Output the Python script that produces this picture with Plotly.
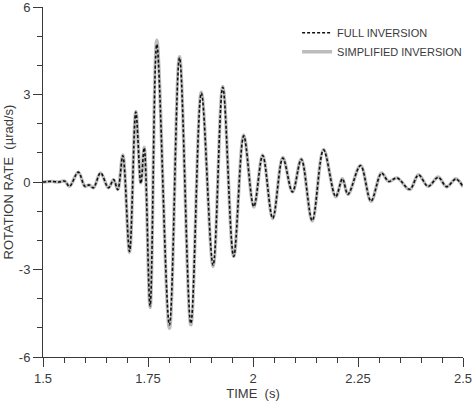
import plotly.graph_objects as go

# Extrema and key points (time in s, rate in µrad/s)
time_s = [1.500, 1.520, 1.538, 1.552, 1.563, 1.584, 1.600, 1.610, 1.620, 1.637,
          1.656, 1.668, 1.678, 1.690, 1.706, 1.721, 1.733, 1.741, 1.755, 1.771,
          1.801, 1.825, 1.852, 1.877, 1.905, 1.928, 1.954, 1.978, 2.002, 2.023,
          2.047, 2.071, 2.094, 2.115, 2.141, 2.168, 2.197, 2.213, 2.226, 2.256,
          2.281, 2.306, 2.323, 2.343, 2.373, 2.394, 2.417, 2.441, 2.461, 2.483,
          2.500]

simplified = [0.00, 0.02, 0.00, 0.03, -0.15, 0.34, -0.15, -0.10, -0.20, 0.31,
              -0.20, 0.08, -0.26, 0.93, -2.41, 2.42, -0.03, 1.19, -4.30, 4.86,
              -5.02, 4.30, -4.90, 3.08, -2.90, 3.28, -2.56, 1.61, -0.86, 0.93,
              -1.25, 0.84, -0.34, 0.79, -1.34, 1.12, -0.51, 0.11, -0.43, 0.57,
              -0.66, 0.31, 0.02, 0.14, -0.26, 0.25, -0.15, 0.17, -0.17, 0.11,
              -0.17]

full = [0.00, 0.02, 0.00, 0.03, -0.15, 0.34, -0.15, -0.10, -0.20, 0.31,
        -0.20, 0.08, -0.26, 0.90, -2.38, 2.40, -0.05, 1.17, -4.25, 4.72,
        -4.90, 4.26, -4.85, 3.05, -2.85, 3.25, -2.55, 1.58, -0.84, 0.91,
        -1.24, 0.82, -0.34, 0.78, -1.32, 1.10, -0.50, 0.11, -0.42, 0.56,
        -0.65, 0.30, 0.02, 0.14, -0.25, 0.24, -0.15, 0.16, -0.16, 0.10,
        -0.16]

x_ticks = [1.5, 1.75, 2.0, 2.25, 2.5]
x_tick_labels = ["1.5", "1.75", "2", "2.25", "2.5"]
y_ticks = [-6, -3, 0, 3, 6]
y_tick_labels = ["-6", "-3", "0", "3", "6"]

FONT = "Arial, 'Liberation Sans', sans-serif"
AXC = "#3a3a3a"

fig = go.Figure()
fig.add_trace(go.Scatter(
    x=time_s, y=simplified, mode="lines", name="SIMPLIFIED INVERSION",
    line=dict(color="#bcbcbc", width=3.4, shape="spline", smoothing=1.0),
    legendrank=2,
))
fig.add_trace(go.Scatter(
    x=time_s, y=full, mode="lines", name="FULL INVERSION",
    line=dict(color="#111111", width=1.6, dash="3px,2px", shape="spline", smoothing=1.0),
    legendrank=1,
))

fig.update_layout(
    width=474, height=401,
    margin=dict(l=43, r=7, t=7, b=44),
    paper_bgcolor="white", plot_bgcolor="white",
    font=dict(family=FONT, color=AXC, size=13),
    showlegend=True,
    legend=dict(
        x=0.605, y=0.968, xanchor="left", yanchor="top",
        bgcolor="rgba(0,0,0,0)", font=dict(size=11, color=AXC),
        tracegroupgap=0, itemwidth=30,
    ),
    xaxis=dict(
        range=[1.5, 2.5], tickvals=x_ticks, ticktext=x_tick_labels,
        showgrid=False, zeroline=False, showline=True, linecolor=AXC, linewidth=1,
        ticks="outside", ticklen=9, tickcolor=AXC, tickwidth=1,
        minor=dict(dtick=0.05, ticks="outside", ticklen=5, tickcolor=AXC, showgrid=False),
        tickfont=dict(size=13, color=AXC), ticklabeloverflow="allow", automargin=False,
        title=dict(text="TIME  (s)", font=dict(size=13, color=AXC), standoff=6),
    ),
    yaxis=dict(
        range=[-6, 6], tickvals=y_ticks, ticktext=y_tick_labels,
        showgrid=False, zeroline=False, showline=True, linecolor=AXC, linewidth=1,
        ticks="outside", ticklen=9, tickcolor=AXC, tickwidth=1,
        minor=dict(dtick=1, ticks="outside", ticklen=5, tickcolor=AXC, showgrid=False),
        tickfont=dict(size=13, color=AXC), ticklabeloverflow="allow", automargin=False,
        title=dict(text="ROTATION RATE  (µrad/s)", font=dict(size=13, color=AXC), standoff=2),
    ),
)

fig.write_html(
    "out.html",
    config={"displayModeBar": False},
    post_script="document.body.style.margin='0';document.body.style.overflow='hidden';",
)
